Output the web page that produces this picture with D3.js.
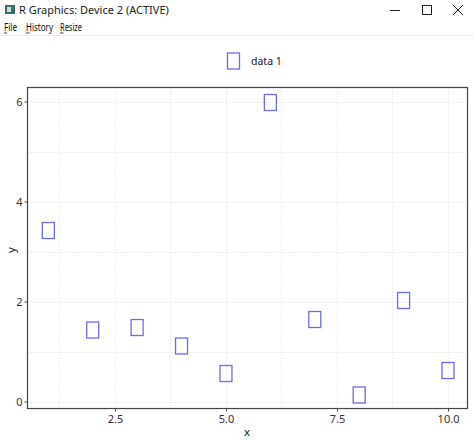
<!DOCTYPE html>
<html><head><meta charset="utf-8">
<script src="https://cdn.jsdelivr.net/npm/d3@7"></script>
<style>body{margin:0;background:#fff;overflow:hidden}svg{display:block}</style>
</head><body>
<svg id="c" width="474" height="441"></svg>
<script>
const xValues = [1,2,3,4,5,6,7,8,9,10];
const yValues = [3.42,1.43,1.48,1.11,0.56,5.98,1.64,0.13,2.02,0.62];
const seriesName = "data 1";
const xTicks = [2.5,5.0,7.5,10.0];
const yTicks = [0,2,4,6];
const xGrid = [1.25,2.5,3.75,5,6.25,7.5,8.75,10];
const yGrid = [0,1,2,3,4,5,6];
const menuItems = ["File","History","Resize"];

const svg = d3.select("#c");
const font = "'Noto Sans', 'DejaVu Sans', sans-serif";
const col = "#6b6bef";

// window chrome
svg.append("rect").attr("x",0).attr("y",0).attr("width",474).attr("height",441).attr("fill","#fff");
const ic = svg.append("g");
ic.append("rect").attr("x",5).attr("y",5).attr("width",10).attr("height",9).attr("fill","#3c6f6a");
ic.append("rect").attr("x",7).attr("y",7).attr("width",4).attr("height",5).attr("fill","#cfe0dd");
svg.append("text").attr("x",19).attr("y",14).attr("font-family",font).attr("font-size",11).attr("fill","#222").text("R Graphics: Device 2 (ACTIVE)");
svg.append("line").attr("x1",390).attr("x2",400).attr("y1",10.5).attr("y2",10.5).attr("stroke","#222");
svg.append("rect").attr("x",422.5).attr("y",5.5).attr("width",9).attr("height",9).attr("fill","none").attr("stroke","#222");
svg.append("path").attr("d","M453,5 L463,15 M463,5 L453,15").attr("stroke","#222");
const mg = svg.append("g").attr("font-family",font).attr("font-size",10).attr("fill","#111");
const menuX = [4,26,60];
const menuW = [13,27,22];
menuItems.forEach((m,i)=>{
  const t = mg.append("text").attr("x",menuX[i]).attr("y",31).attr("textLength",menuW[i]).attr("lengthAdjust","spacingAndGlyphs").text(m);
  const w0 = menuW[i]/m.length*0.95;
  mg.append("line").attr("x1",menuX[i]).attr("x2",menuX[i]+w0).attr("y1",33).attr("y2",33).attr("stroke","#111").attr("stroke-width",0.8);
});
svg.append("line").attr("x1",0).attr("x2",474).attr("y1",35.5).attr("y2",35.5).attr("stroke","#eee");

// plot
const L=27.5, R=467.5, T=87.5, B=408.5;
const x = d3.scaleLinear().domain([1,10]).range([48.3,448]);
const y = d3.scaleLinear().domain([0,6]).range([401.5,101.5]);

const g = svg.append("g");
g.selectAll(".vg").data(xGrid).join("line")
  .attr("x1",d=>Math.round(x(d))+0.5).attr("x2",d=>Math.round(x(d))+0.5).attr("y1",T).attr("y2",B)
  .attr("stroke","#dcdcdc").attr("stroke-dasharray","1,2");
g.selectAll(".hg").data(yGrid).join("line")
  .attr("y1",d=>Math.round(y(d))+0.5).attr("y2",d=>Math.round(y(d))+0.5).attr("x1",L).attr("x2",R)
  .attr("stroke","#dcdcdc").attr("stroke-dasharray","1,2");

g.append("rect").attr("x",L).attr("y",T).attr("width",R-L).attr("height",B-T)
  .attr("fill","none").attr("stroke","#444").attr("stroke-width",1.2);

// axes
const xa = svg.append("g").attr("transform",`translate(0,${B})`)
  .call(d3.axisBottom(x).tickValues(xTicks).tickFormat(d3.format(".1f")).tickSize(3).tickSizeOuter(0));
const ya = svg.append("g").attr("transform",`translate(${L},0)`)
  .call(d3.axisLeft(y).tickValues(yTicks).tickFormat(d3.format("d")).tickSize(3).tickSizeOuter(0));
[xa,ya].forEach(a=>{
  a.select(".domain").remove();
  a.selectAll(".tick line").attr("stroke","#444");
  a.selectAll("text").attr("font-family",font).attr("font-size",11).attr("fill","#333");
});
xa.selectAll("text").attr("dy","0.71em").attr("y",7);
ya.selectAll("text").attr("x",-5);

svg.append("text").attr("x",247).attr("y",436).attr("text-anchor","middle").attr("font-family",font).attr("font-size",11.5).attr("fill","#222").text("x");
svg.append("text").attr("transform","translate(15,250) rotate(-90)").attr("text-anchor","middle").attr("font-family",font).attr("font-size",11.5).attr("fill","#222").text("y");

// points
const pts = xValues.map((v,i)=>({x:v,y:yValues[i]}));
svg.append("g").selectAll("rect").data(pts).join("rect")
  .attr("x",d=>x(d.x)-6).attr("y",d=>y(d.y)-8).attr("width",12).attr("height",16)
  .attr("fill","none").attr("stroke",col).attr("stroke-width",1.3);

// legend
svg.append("rect").attr("x",227.5).attr("y",53).attr("width",12).attr("height",16)
  .attr("fill","none").attr("stroke",col).attr("stroke-width",1.3);
svg.append("text").attr("x",251).attr("y",65).attr("font-family",font).attr("font-size",10.5).attr("fill","#222").text(seriesName);
</script>
</body></html>
